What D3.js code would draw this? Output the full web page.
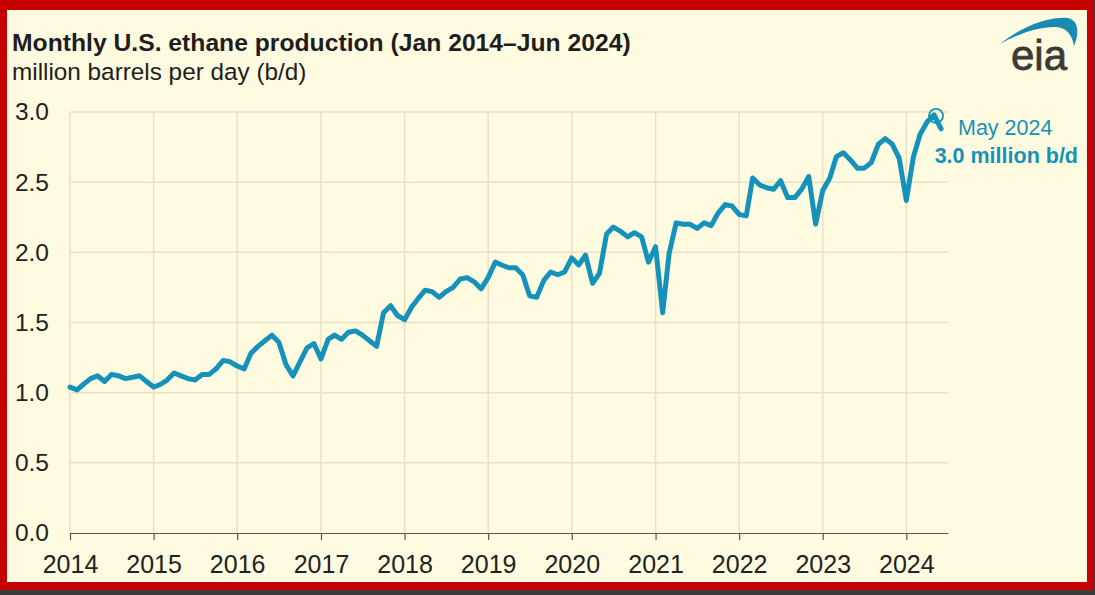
<!DOCTYPE html>
<html>
<head>
<meta charset="utf-8">
<script src="https://cdn.jsdelivr.net/npm/d3@7"></script>
<style>
  body { margin: 0; background: #3b3a38; }
  svg { display: block; font-family: "Liberation Sans", Arial, sans-serif; }
</style>
</head>
<body>
<div id="chart"></div>
<script>
// monthly ethane production, million b/d, Jan 2014 .. Jun 2024
const startMonth = "2014-01";
const production = [
  // 2014
  1.04, 1.02, 1.06, 1.10, 1.12, 1.08, 1.13, 1.12, 1.10, 1.11, 1.12, 1.08,
  // 2015
  1.04, 1.06, 1.09, 1.14, 1.12, 1.10, 1.09, 1.13, 1.13, 1.17, 1.23, 1.22,
  // 2016
  1.19, 1.17, 1.28, 1.33, 1.37, 1.41, 1.36, 1.20, 1.12, 1.22, 1.32, 1.35,
  // 2017
  1.24, 1.38, 1.41, 1.38, 1.43, 1.44, 1.41, 1.37, 1.33, 1.57, 1.62, 1.55,
  // 2018
  1.52, 1.61, 1.67, 1.73, 1.72, 1.68, 1.72, 1.75, 1.81, 1.82, 1.79, 1.74,
  // 2019
  1.82, 1.93, 1.91, 1.89, 1.89, 1.84, 1.69, 1.68, 1.80, 1.86, 1.84, 1.86,
  // 2020
  1.96, 1.91, 1.98, 1.78, 1.85, 2.13, 2.18, 2.15, 2.11, 2.14, 2.11, 1.93,
  // 2021
  2.04, 1.57, 1.99, 2.21, 2.20, 2.20, 2.17, 2.21, 2.19, 2.28, 2.34, 2.33,
  // 2022
  2.27, 2.26, 2.53, 2.48, 2.46, 2.45, 2.51, 2.39, 2.39, 2.45, 2.54, 2.20,
  // 2023
  2.44, 2.53, 2.68, 2.71, 2.66, 2.60, 2.60, 2.64, 2.77, 2.81, 2.77, 2.67,
  // 2024
  2.37, 2.68, 2.84, 2.93, 2.98, 2.88
];
const yTicks = [0, 0.5, 1.0, 1.5, 2.0, 2.5, 3.0];
const xTickYears = [2014, 2015, 2016, 2017, 2018, 2019, 2020, 2021, 2022, 2023, 2024];
const highlight = { month: "2024-05", label: "May 2024", value: "3.0 million b/d" };

const W = 1095, H = 595;
const plot = { left: 70, right: 948, top: 112, bottom: 533 };
const lineColor = "#1592b9";
const gridColor = "#ecdfc4";
const FONT = "Liberation Sans, Arial, sans-serif";

const parseMonth = d3.timeParse("%Y-%m");
const start = parseMonth(startMonth);
const data = production.map((v, i) => ({ date: d3.timeMonth.offset(start, i), value: v }));

const svg = d3.select("#chart").append("svg")
    .attr("width", W)
    .attr("height", H);

// photo strip under the frame + red frame + cream card
svg.append("rect").attr("width", W).attr("height", H).attr("fill", "#3b3a38");
svg.append("rect").attr("x", 0).attr("y", 0).attr("width", 1093).attr("height", 590).attr("fill", "#c40000");
svg.append("rect").attr("x", 7).attr("y", 10).attr("width", 1080).attr("height", 572).attr("fill", "#fffbe0");

const x = d3.scaleTime()
    .domain([start, parseMonth("2024-07")])
    .range([plot.left, plot.right]);

const y = d3.scaleLinear()
    .domain([0, 3])
    .range([plot.bottom, plot.top]);

// grid
svg.append("g")
    .selectAll("line")
    .data(yTicks.filter(d => d > 0))
    .join("line")
    .attr("x1", plot.left).attr("x2", plot.right)
    .attr("y1", d => y(d)).attr("y2", d => y(d))
    .attr("stroke", gridColor).attr("stroke-width", 1.5);

svg.append("g")
    .selectAll("line")
    .data(xTickYears)
    .join("line")
    .attr("x1", d => x(new Date(d, 0, 1))).attr("x2", d => x(new Date(d, 0, 1)))
    .attr("y1", plot.top).attr("y2", plot.bottom)
    .attr("stroke", gridColor).attr("stroke-width", 1.5);

// y axis labels
const yAxis = svg.append("g")
    .attr("transform", `translate(${plot.left}, 0)`)
    .call(d3.axisLeft(y).tickValues(yTicks).tickFormat(d3.format(".1f")).tickSize(0).tickPadding(21));
yAxis.select(".domain").remove();
yAxis.selectAll("text").attr("font-size", 24.5).attr("fill", "#222").attr("font-family", FONT);

// x axis
const xAxis = svg.append("g")
    .attr("transform", `translate(0, ${plot.bottom})`)
    .call(d3.axisBottom(x)
        .tickValues(xTickYears.map(yr => new Date(yr, 0, 1)))
        .tickFormat(d3.timeFormat("%Y"))
        .tickSizeInner(7).tickSizeOuter(0).tickPadding(15));
xAxis.select(".domain").attr("stroke", "#555").attr("stroke-width", 1.2);
xAxis.selectAll(".tick line").attr("stroke", "#555").attr("stroke-width", 1.2);
xAxis.selectAll("text").attr("font-size", 25).attr("fill", "#222").attr("font-family", FONT);

// the line
const line = d3.line()
    .x(d => x(d.date))
    .y(d => y(d.value));

svg.append("path")
    .datum(data)
    .attr("d", line)
    .attr("fill", "none")
    .attr("stroke", lineColor)
    .attr("stroke-width", 5)
    .attr("stroke-linejoin", "round")
    .attr("stroke-linecap", "round");

// highlight point
const hp = data.find(d => d3.timeFormat("%Y-%m")(d.date) === highlight.month);
svg.append("circle")
    .attr("cx", x(hp.date) + 2)
    .attr("cy", y(hp.value) + 1)
    .attr("r", 7)
    .attr("fill", "none")
    .attr("stroke", lineColor)
    .attr("stroke-width", 1.8);

svg.append("text")
    .attr("x", 958).attr("y", 135)
    .attr("font-size", 21.5)
    .attr("fill", lineColor)
    .text(highlight.label);

svg.append("text")
    .attr("x", 1078).attr("y", 163)
    .attr("text-anchor", "end")
    .attr("font-size", 21.5)
    .attr("font-weight", "bold")
    .attr("fill", lineColor)
    .text(highlight.value);

// titles
svg.append("text")
    .attr("x", 12).attr("y", 51)
    .attr("font-size", 24.7)
    .attr("font-weight", "bold")
    .attr("fill", "#1e1e1e")
    .text("Monthly U.S. ethane production (Jan 2014\u2013Jun 2024)");

svg.append("text")
    .attr("x", 12).attr("y", 80)
    .attr("font-size", 24.3)
    .attr("fill", "#1e1e1e")
    .text("million barrels per day (b/d)");

// eia logo
svg.append("path")
    .attr("d", "M1000,44 C1022,26 1050,16 1068,18 C1078,20 1080,32 1074,46 C1072,34 1066,27 1054,27 C1038,27 1018,34 1000,44 Z")
    .attr("fill", "#1a8ab0");
svg.append("text")
    .attr("x", 1039).attr("y", 70)
    .attr("text-anchor", "middle")
    .attr("font-size", 42)
    .attr("fill", "#3c3a36")
    .attr("stroke", "#3c3a36")
    .attr("stroke-width", 0.8)
    .text("eia");
</script>
</body>
</html>
